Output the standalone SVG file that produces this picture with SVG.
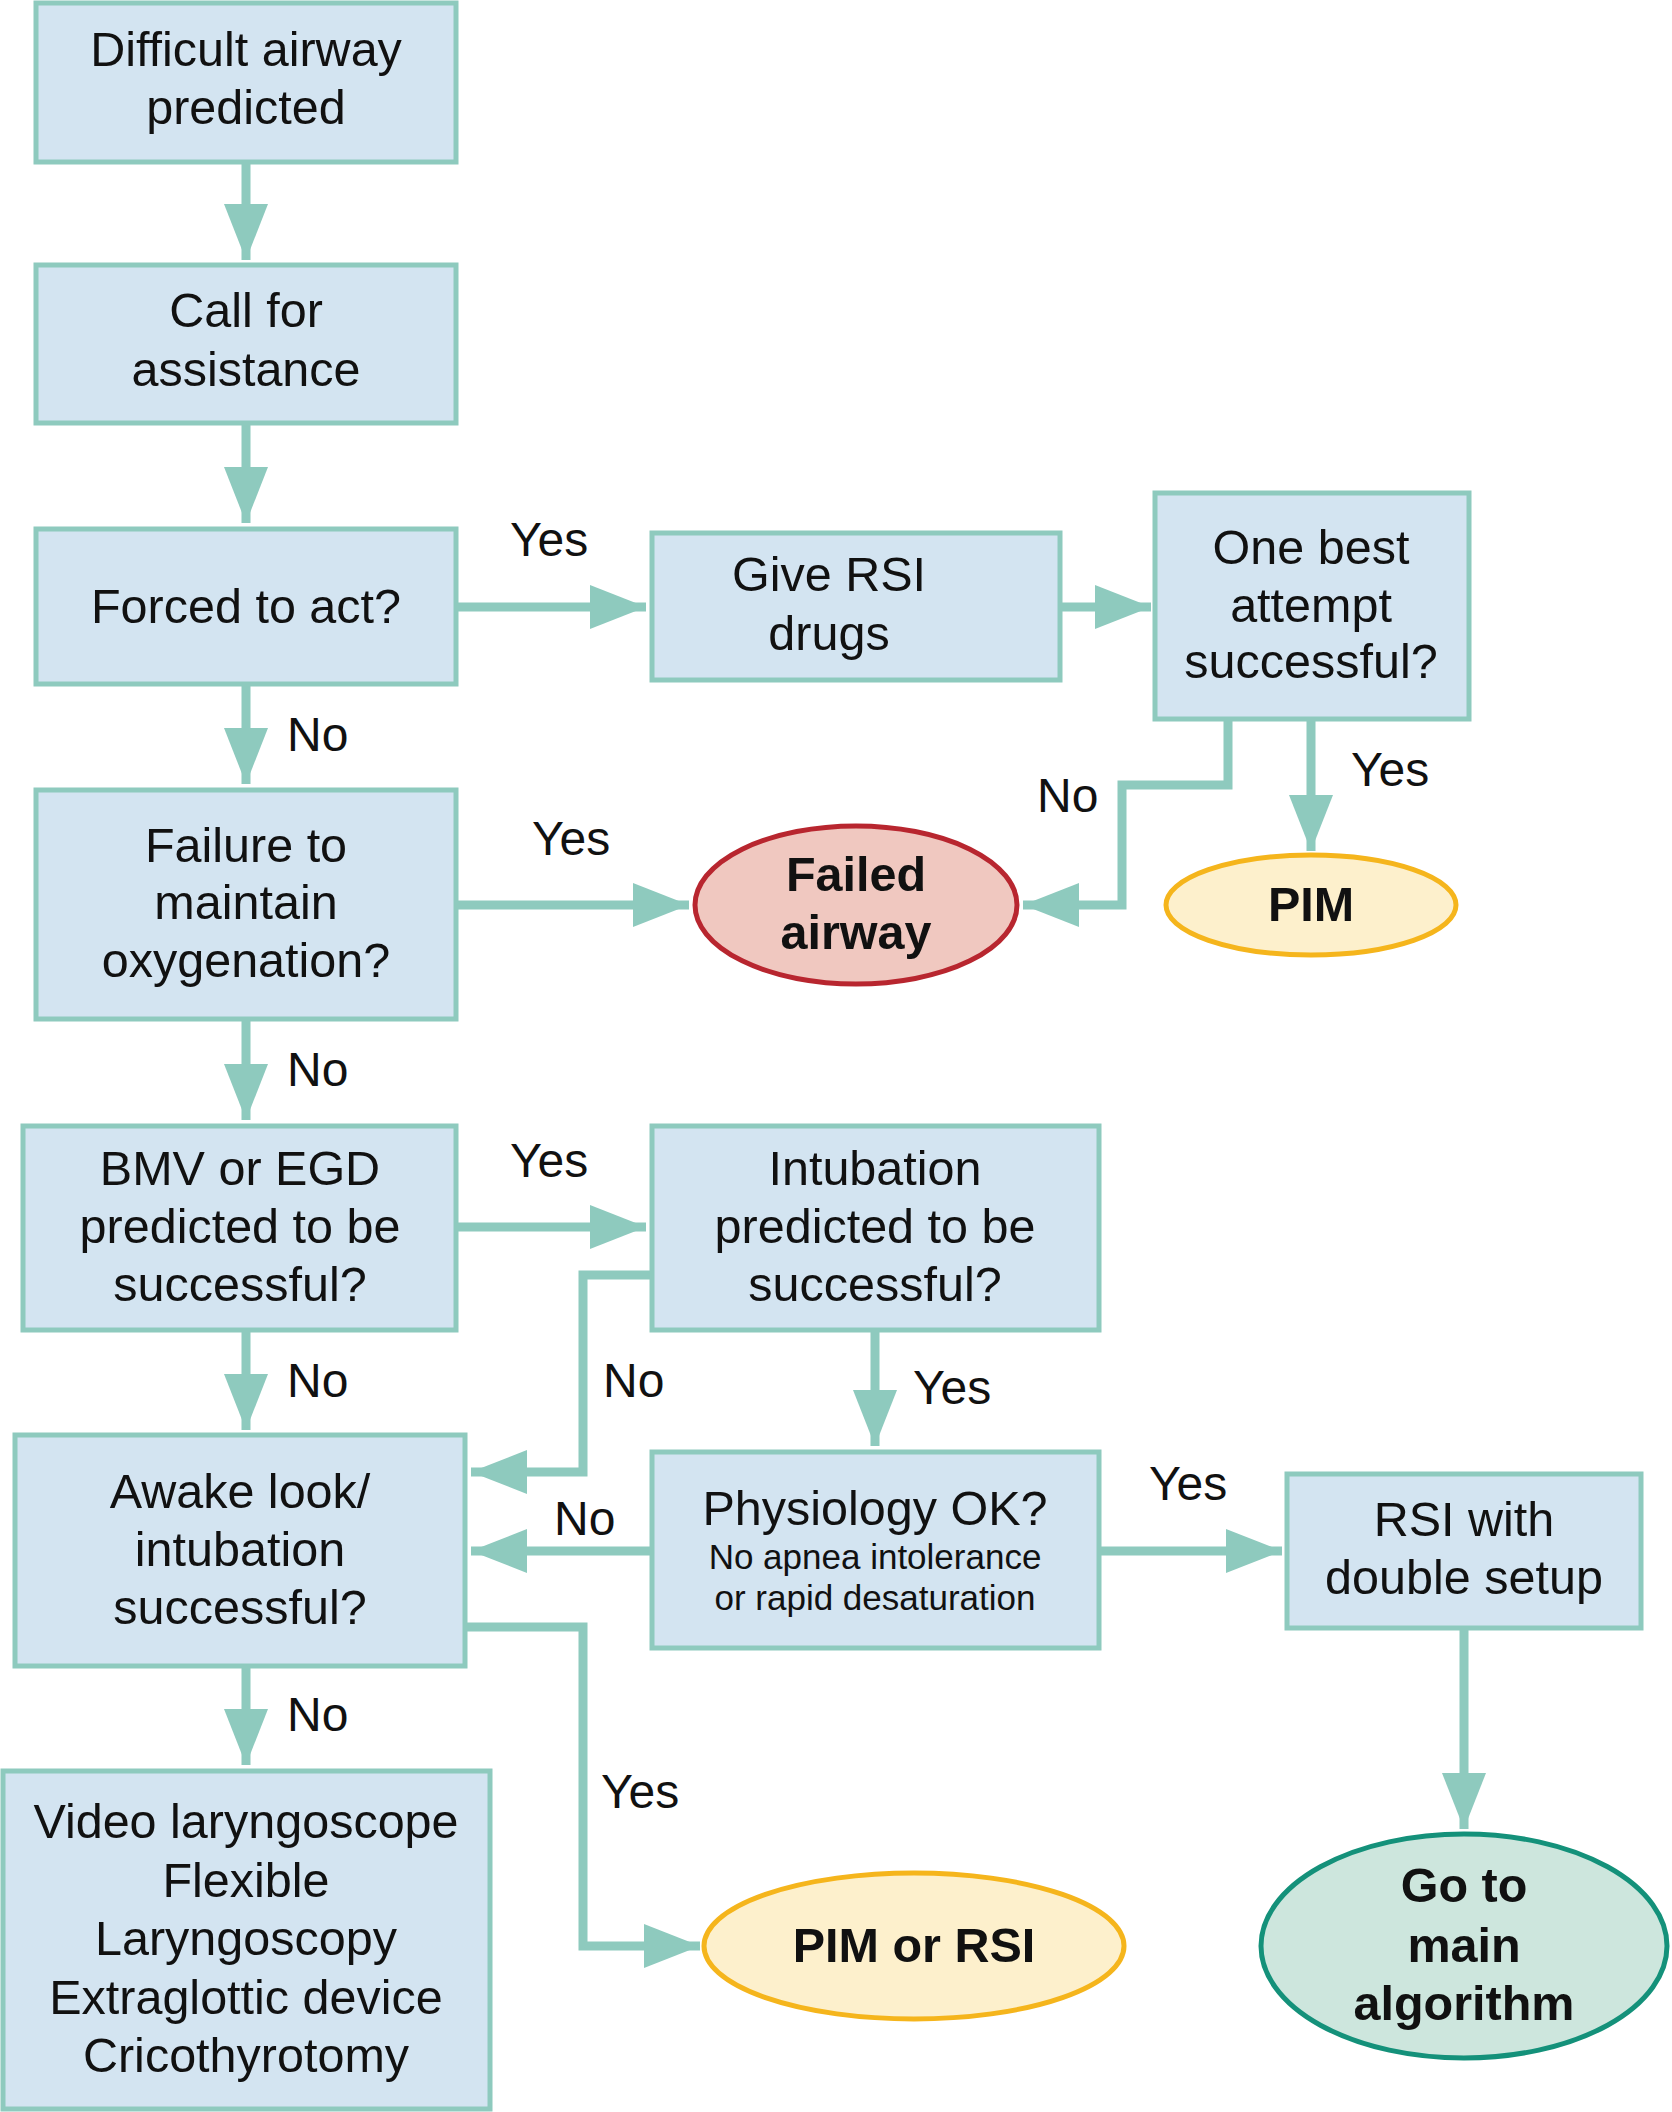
<svg xmlns="http://www.w3.org/2000/svg" width="1672" height="2112" viewBox="0 0 1672 2112">
<style>
.b{fill:#d3e4f1;stroke:#8ecabe;stroke-width:5}
.t{font-family:"Liberation Sans",Arial,sans-serif;font-size:48.5px;fill:#111;text-anchor:middle}
.s{font-size:35px}
.bd{font-weight:bold}
.l{font-family:"Liberation Sans",Arial,sans-serif;font-size:48px;fill:#111}
.c{fill:none;stroke:#8ecabe;stroke-width:9}
</style>
<defs>
<marker id="a" markerUnits="userSpaceOnUse" markerWidth="56" markerHeight="44" refX="56" refY="22" orient="auto">
<path d="M0,0 L56,22 L0,44 Z" fill="#8ecabe"/>
</marker>
</defs>
<rect width="1672" height="2112" fill="#fff"/>
<g id="connectors">
<path class="c" marker-end="url(#a)" d="M246,162 V260"/>
<path class="c" marker-end="url(#a)" d="M246,423 V523"/>
<path class="c" marker-end="url(#a)" d="M456,607 H646"/>
<path class="c" marker-end="url(#a)" d="M1060,607 H1151"/>
<path class="c" marker-end="url(#a)" d="M246,684 V784"/>
<path class="c" marker-end="url(#a)" d="M456,905 H689"/>
<path class="c" marker-end="url(#a)" d="M1228,719 V785 H1122 V905 H1023"/>
<path class="c" marker-end="url(#a)" d="M1311,719 V851"/>
<path class="c" marker-end="url(#a)" d="M246,1019 V1120"/>
<path class="c" marker-end="url(#a)" d="M456,1227 H646"/>
<path class="c" marker-end="url(#a)" d="M652,1275 H583 V1472 H471"/>
<path class="c" marker-end="url(#a)" d="M875,1330 V1446"/>
<path class="c" marker-end="url(#a)" d="M652,1551 H471"/>
<path class="c" marker-end="url(#a)" d="M1099,1551 H1282"/>
<path class="c" marker-end="url(#a)" d="M246,1330 V1430"/>
<path class="c" marker-end="url(#a)" d="M246,1666 V1765"/>
<path class="c" marker-end="url(#a)" d="M465,1627 H583 V1946 H700"/>
<path class="c" marker-end="url(#a)" d="M1464,1628 V1829"/>
<text class="l" x="510" y="556">Yes</text>
<text class="l" x="287" y="751">No</text>
<text class="l" x="532" y="855">Yes</text>
<text class="l" x="1037" y="812">No</text>
<text class="l" x="1351" y="786">Yes</text>
<text class="l" x="287" y="1086">No</text>
<text class="l" x="510" y="1177">Yes</text>
<text class="l" x="603" y="1397">No</text>
<text class="l" x="913" y="1404">Yes</text>
<text class="l" x="287" y="1397">No</text>
<text class="l" x="554" y="1535">No</text>
<text class="l" x="1149" y="1500">Yes</text>
<text class="l" x="287" y="1731">No</text>
<text class="l" x="601" y="1808">Yes</text>
</g>
<g id="n1"><rect class="b" x="36" y="3" width="420" height="159"/><text class="t" x="246" y="66">Difficult airway</text><text class="t" x="246" y="124">predicted</text></g>
<g id="n2"><rect class="b" x="36" y="265" width="420" height="158"/><text class="t" x="246" y="327">Call for</text><text class="t" x="246" y="386">assistance</text></g>
<g id="n3"><rect class="b" x="36" y="529" width="420" height="155"/><text class="t" x="246" y="623">Forced to act?</text></g>
<g id="n4"><rect class="b" x="36" y="790" width="420" height="229"/><text class="t" x="246" y="862">Failure to</text><text class="t" x="246" y="919">maintain</text><text class="t" x="246" y="977">oxygenation?</text></g>
<g id="n5"><rect class="b" x="23" y="1126" width="433" height="204"/><text class="t" x="240" y="1185">BMV or EGD</text><text class="t" x="240" y="1243">predicted to be</text><text class="t" x="240" y="1301">successful?</text></g>
<g id="n6"><rect class="b" x="15" y="1435" width="450" height="231"/><text class="t" x="240" y="1508">Awake look/</text><text class="t" x="240" y="1566">intubation</text><text class="t" x="240" y="1624">successful?</text></g>
<g id="n7"><rect class="b" x="3" y="1771" width="487" height="338"/><text class="t" x="246" y="1838">Video laryngoscope</text><text class="t" x="246" y="1897">Flexible</text><text class="t" x="246" y="1955">Laryngoscopy</text><text class="t" x="246" y="2014">Extraglottic device</text><text class="t" x="246" y="2072">Cricothyrotomy</text></g>
<g id="n8"><rect class="b" x="652" y="533" width="408" height="147"/><text class="t" x="829" y="591">Give RSI</text><text class="t" x="829" y="650">drugs</text></g>
<g id="n9"><rect class="b" x="1155" y="493" width="314" height="226"/><text class="t" x="1311" y="564">One best</text><text class="t" x="1311" y="622">attempt</text><text class="t" x="1311" y="678">successful?</text></g>
<g id="n10"><ellipse cx="856" cy="905" rx="161" ry="79" fill="#f0c8c0" stroke="#b8262f" stroke-width="5"/><text class="t bd" x="856" y="891">Failed</text><text class="t bd" x="856" y="949">airway</text></g>
<g id="n11"><ellipse cx="1311" cy="905" rx="145" ry="50" fill="#fdf0cc" stroke="#f5b51c" stroke-width="5"/><text class="t bd" x="1311" y="921">PIM</text></g>
<g id="n12"><rect class="b" x="652" y="1126" width="447" height="204"/><text class="t" x="875" y="1185">Intubation</text><text class="t" x="875" y="1243">predicted to be</text><text class="t" x="875" y="1301">successful?</text></g>
<g id="n13"><rect class="b" x="652" y="1452" width="447" height="196"/><text class="t" x="875" y="1525">Physiology OK?</text><text class="t s" x="875" y="1569">No apnea intolerance</text><text class="t s" x="875" y="1610">or rapid desaturation</text></g>
<g id="n14"><rect class="b" x="1287" y="1474" width="354" height="154"/><text class="t" x="1464" y="1536">RSI with</text><text class="t" x="1464" y="1594">double setup</text></g>
<g id="n15"><ellipse cx="914" cy="1946" rx="210" ry="73" fill="#fdf0cc" stroke="#f5b51c" stroke-width="5"/><text class="t bd" x="914" y="1962">PIM or RSI</text></g>
<g id="n16"><ellipse cx="1464" cy="1946" rx="203" ry="112" fill="#cde6dd" stroke="#14917a" stroke-width="5"/><text class="t bd" x="1464" y="1902">Go to</text><text class="t bd" x="1464" y="1962">main</text><text class="t bd" x="1464" y="2020">algorithm</text></g>
</svg>
